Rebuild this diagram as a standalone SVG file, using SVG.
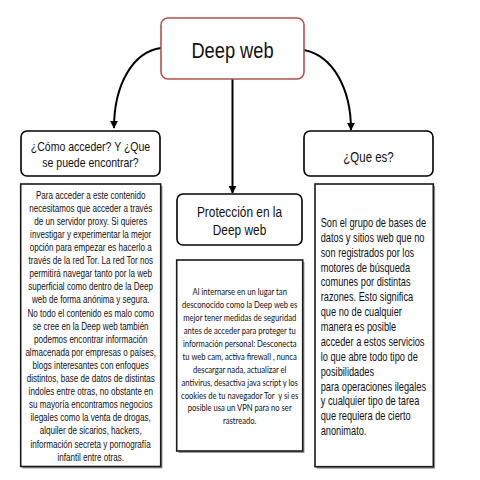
<svg xmlns="http://www.w3.org/2000/svg" width="480" height="480" viewBox="0 0 480 480">
<defs>
<style>
.hdr{fill:#fff;stroke:#000;stroke-width:1.6}
.box{fill:#fff;stroke:#1a1a1a;stroke-width:1.6}
.sh{fill:#9a9a9a;stroke:none}
.a{font-family:"Liberation Sans",Arial,sans-serif;fill:#111}
.c{font-family:Lato,"Liberation Sans",sans-serif;fill:#111}
.edge{fill:none;stroke:#000;stroke-width:2}
</style>
<marker id="ah" viewBox="0 0 10 10" refX="9" refY="5" markerWidth="4" markerHeight="4" orient="auto" markerUnits="strokeWidth">
<path d="M0,0 L10,5 L0,10 Z" fill="#000"/>
</marker>
</defs>
<rect width="480" height="480" fill="#fff"/>

<g id="connectors">
<path class="edge" d="M161,48 C132,52 114,86 114,128" marker-end="url(#ah)"/>
<path class="edge" d="M304,50 C334,56 351,90 351,130" marker-end="url(#ah)"/>
<path class="edge" d="M232.5,79 L232.5,193" stroke-width="1.6" marker-end="url(#ah)"/>
</g>

<g id="deepweb">
<rect x="161" y="18" width="143" height="61" rx="7" fill="#fff" stroke="#b5524d" stroke-width="1.6"/>
<text class="a" font-size="22" text-anchor="middle" transform="matrix(0.83,0,0,1,232.5,0)" x="0" y="58">Deep web</text>
</g>

<g id="como">
<rect class="hdr" x="21" y="131" width="139" height="45" rx="6"/>
<g class="a" font-size="13" text-anchor="middle" transform="matrix(0.81,0,0,1,90.5,0)">
<text x="0" y="151.3">¿Cómo acceder? Y ¿Que</text>
<text x="0" y="167.3">se puede encontrar?</text>
</g>
</g>

<g id="quees">
<rect class="hdr" x="304" y="131" width="129" height="45" rx="6"/>
<text class="a" font-size="14" text-anchor="middle" transform="matrix(0.82,0,0,1,368.5,0)" x="0" y="161.7">¿Que es?</text>
</g>

<g id="proteccion">
<rect class="hdr" x="177" y="194" width="125" height="51" rx="6"/>
<g class="a" font-size="14.5" text-anchor="middle" transform="matrix(0.82,0,0,1,239.5,0)">
<text x="0" y="216.8">Protección en la</text>
<text x="0" y="235.1">Deep web</text>
</g>
</g>

<g id="texto-acceder">
<rect class="sh" x="22.5" y="186" width="140" height="282.5"/>
<rect class="box" x="20.7" y="184" width="140" height="282.5"/>
<g class="a" font-size="10.5" text-anchor="middle" transform="matrix(0.77,0,0,1,90.7,0)">
<text x="0" y="198.7">Para acceder a este contenido</text>
<text x="0" y="211.8">necesitamos que acceder a través</text>
<text x="0" y="224.9">de un servidor proxy. Si quieres</text>
<text x="0" y="238.0">investigar y experimentar la mejor</text>
<text x="0" y="251.1">opción para empezar es hacerlo a</text>
<text x="0" y="264.2">través de la red Tor. La red Tor nos</text>
<text x="0" y="277.3">permitirá navegar tanto por la web</text>
<text x="0" y="290.4">superficial como dentro de la Deep</text>
<text x="0" y="303.5">web de forma anónima y segura.</text>
<text x="0" y="316.6">No todo el contenido es malo como</text>
<text x="0" y="329.7">se cree en la Deep web también</text>
<text x="0" y="342.8">podemos encontrar información</text>
<text x="0" y="355.9">almacenada por empresas o países,</text>
<text x="0" y="369.0">blogs interesantes con enfoques</text>
<text x="0" y="382.1">distintos, base de datos de distintas</text>
<text x="0" y="395.2">índoles entre otras, no obstante en</text>
<text x="0" y="408.3">su mayoría encontramos negocios</text>
<text x="0" y="421.4">ilegales como la venta de drogas,</text>
<text x="0" y="434.5">alquiler de sicarios, hackers,</text>
<text x="0" y="447.6">información secreta y pornografía</text>
<text x="0" y="460.7">infantil entre otras.</text>
</g>
</g>

<g id="texto-proteccion">
<rect class="sh" x="178.5" y="262" width="126" height="191"/>
<rect class="box" x="176.7" y="260" width="126" height="191"/>
<g class="c" font-size="9.8" text-anchor="middle" transform="matrix(0.78,0,0,1,239.7,0)">
<text x="0" y="295.4">Al internarse en un lugar tan</text>
<text x="0" y="308.3">desconocido como la Deep web es</text>
<text x="0" y="321.2">mejor tener medidas de seguridad</text>
<text x="0" y="334.1">antes de acceder para proteger tu</text>
<text x="0" y="347.0">información personal: Desconecta</text>
<text x="0" y="359.9">tu web cam, activa firewall , nunca</text>
<text x="0" y="372.8">descargar nada, actualizar el</text>
<text x="0" y="385.7">antivirus, desactiva java script y los</text>
<text x="0" y="398.6" xml:space="preserve">cookies de tu navegador Tor  y si es</text>
<text x="0" y="411.5">posible usa un VPN para no ser</text>
<text x="0" y="424.4">rastreado.</text>
</g>
</g>

<g id="texto-quees">
<rect class="sh" x="316.8" y="186" width="118.3" height="282.7"/>
<rect class="box" x="315" y="184" width="118.3" height="282.7"/>
<g class="a" font-size="12.5" transform="matrix(0.74,0,0,1,320.7,0)">
<text x="0" y="227.1">Son el grupo de bases de</text>
<text x="0" y="241.9">datos y sitios web que no</text>
<text x="0" y="256.8">son registrados por los</text>
<text x="0" y="271.7">motores de búsqueda</text>
<text x="0" y="286.5">comunes por distintas</text>
<text x="0" y="301.4">razones. Esto significa</text>
<text x="0" y="316.3">que no de cualquier</text>
<text x="0" y="331.1">manera es posible</text>
<text x="0" y="346.0">acceder a estos servicios</text>
<text x="0" y="360.8">lo que abre todo tipo de</text>
<text x="0" y="375.7">posibilidades</text>
<text x="0" y="390.6">para operaciones ilegales</text>
<text x="0" y="405.4">y cualquier tipo de tarea</text>
<text x="0" y="420.3">que requiera de cierto</text>
<text x="0" y="435.1">anonimato.</text>
</g>
</g>
</svg>
